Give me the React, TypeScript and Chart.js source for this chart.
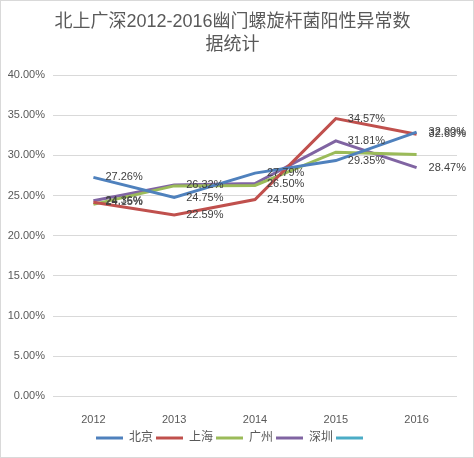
import React, { useEffect, useRef } from 'react';
import { Chart, registerables } from 'chart.js';

Chart.register(...registerables);

// Categories and series (percent values)
const years = ['2012', '2013', '2014', '2015', '2016'];
const beijing = [27.26, 24.75, 27.79, 29.35, 32.9];
const shanghai = [24.15, 22.59, 24.5, 34.57, 32.63];
const guangzhou = [23.9, 26.2, 26.25, 30.4, 30.1];
const shenzhen = [24.36, 26.32, 26.5, 31.81, 28.47];
const extra: number[] = [];

const seriesNames = ['北京', '上海', '广州', '深圳', ''];
const seriesColors = ['#4F81BD', '#C0504D', '#9BBB59', '#8064A2', '#4BACC6'];
const showValueLabels = [true, true, false, true, false];

const titleLines = ['北上广深2012-2016幽门螺旋杆菌阳性异常数', '据统计'];
const yMin = 0;
const yMax = 40;
const yStep = 5;

const FONT = '"Liberation Sans", "Noto Sans CJK SC", sans-serif';

const pct = (v: number) => `${v.toFixed(2)}%`;

// Value labels placed to the right of each point
const valueLabels = {
  id: 'valueLabels',
  afterDatasetsDraw(chart: any) {
    const { ctx } = chart;
    ctx.save();
    ctx.font = `11px ${FONT}`;
    ctx.fillStyle = '#404040';
    ctx.textAlign = 'left';
    ctx.textBaseline = 'middle';
    chart.data.datasets.forEach((ds: any, i: number) => {
      if (!showValueLabels[i]) return;
      const meta = chart.getDatasetMeta(i);
      meta.data.forEach((pt: any, j: number) => {
        ctx.fillText(pct(ds.data[j]), pt.x + 12, pt.y);
      });
    });
    ctx.restore();
  },
};

// Thin frame around the whole chart
const frame = {
  id: 'frame',
  afterDraw(chart: any) {
    const { ctx, width, height } = chart;
    ctx.save();
    ctx.strokeStyle = '#D9D9D9';
    ctx.lineWidth = 1;
    ctx.strokeRect(0.5, 0.5, width - 1, height - 1);
    ctx.restore();
  },
};

export default function App() {
  const ref = useRef<HTMLCanvasElement>(null);

  useEffect(() => {
    document.body.style.margin = '0';
    const seriesData = [beijing, shanghai, guangzhou, shenzhen, extra];
    const chart = new Chart(ref.current!, {
      type: 'line',
      data: {
        labels: years,
        datasets: seriesData.map((d, i) => ({
          label: seriesNames[i],
          data: d,
          borderColor: seriesColors[i],
          backgroundColor: seriesColors[i],
          borderWidth: 3,
          pointRadius: 0,
          tension: 0,
          fill: false,
        })),
      },
      options: {
        responsive: false,
        animation: false,
        layout: { padding: { top: 0, left: 8, right: 17, bottom: 4 } },
        plugins: {
          title: {
            display: true,
            text: titleLines,
            color: '#595959',
            font: { family: FONT, size: 18, weight: 'normal', lineHeight: 1.25 },
            padding: { top: 11, bottom: 19 },
          },
          legend: {
            position: 'bottom',
            labels: {
              color: '#595959',
              font: { family: FONT, size: 12 },
              boxWidth: 27,
              boxHeight: 3,
              padding: 3,
              generateLabels(chart: any) {
                const items = Chart.defaults.plugins.legend.labels.generateLabels(chart);
                return items.map((it: any) => ({ ...it, lineWidth: 0, fillStyle: it.strokeStyle }));
              },
            },
          },
          tooltip: { enabled: false },
        },
        scales: {
          x: {
            offset: true,
            grid: { display: false },
            border: { display: false },
            ticks: { color: '#595959', font: { family: FONT, size: 11 }, padding: 9 },
            afterFit(scale: any) {
              scale.height = 32.6;
            },
          },
          y: {
            min: yMin,
            max: yMax,
            grid: { color: '#D9D9D9', drawTicks: false },
            border: { display: false },
            ticks: {
              stepSize: yStep,
              color: '#595959',
              font: { family: FONT, size: 11 },
              padding: 8,
              callback: (v: any) => pct(Number(v)),
            },
            afterFit(scale: any) {
              scale.width = 45;
            },
          },
        },
      },
      plugins: [valueLabels, frame],
    } as any);
    return () => chart.destroy();
  }, []);

  return (
    <div style={{ width: 474, height: 458 }}>
      <canvas ref={ref} width={474} height={458} />
    </div>
  );
}
